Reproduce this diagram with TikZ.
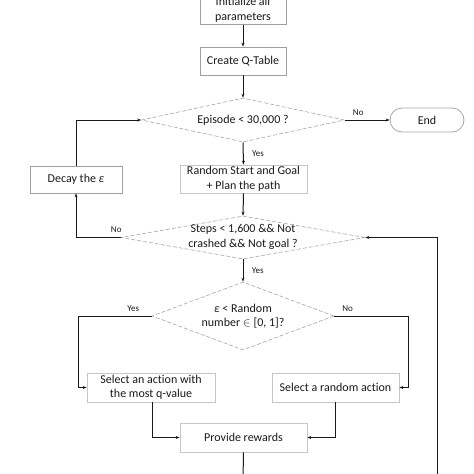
\documentclass[tikz,border=0pt]{standalone}
\usepackage{fontspec}
\setmainfont{Carlito}[Ligatures=NoCommon]
\usetikzlibrary{shapes.geometric,arrows.meta}
\begin{document}
\begin{tikzpicture}[x=1pt,y=1pt,
  every node/.style={font=\fontsize{12}{14.5}\selectfont, text=black!90},
  procbox/.style={draw=gray!75, line width=0.8pt, inner sep=0pt, align=center},
  lightbox/.style={draw=gray!45, line width=0.8pt, inner sep=0pt, align=center},
  decision/.style={diamond, draw=gray!70, line width=0.6pt, dash pattern=on 4pt off 2pt, inner sep=0pt},
  lbl/.style={font=\fontsize{9}{11}\selectfont, text=black!90},
  conn/.style={draw=black!90, line width=1pt, -{Stealth[length=4pt,width=3pt]}},
  plain/.style={draw=black!90, line width=1pt}
]
\useasboundingbox (0,0) rectangle (474,-474);
\clip (0,0) rectangle (474,-474);

\node[procbox, minimum width=86, minimum height=29] (init) at (243,-10) {Initialize all\\parameters};
\node[procbox, minimum width=86, minimum height=28] (qtab) at (243,-61) {Create Q-Table};
\node[decision, minimum width=203, minimum height=44] (d1) at (243,-120) {};
\node (d1t) at (d1) {Episode < 30,000 ?};
\node[draw=gray!70, line width=0.8pt, rounded corners=12pt, minimum width=74, minimum height=24, inner sep=0pt] (end) at (427,-120) {End};
\node[lightbox, minimum width=127, minimum height=28] (rand) at (243.5,-179) {Random Start and Goal\\+ Plan the path};
\node[procbox, minimum width=92, minimum height=27] (decay) at (76,-179.5) {Decay the \textit{ε}};
\node[decision, minimum width=244, minimum height=43] (d2) at (243,-237.5) {};
\node[align=center] (d2t) at (243,-237) {Steps < 1,600 \&\& Not\\crashed \&\& Not goal ?};
\node[decision, minimum width=182, minimum height=68] (d3) at (243,-316) {};
\node[align=center] (d3t) at (243,-316) {\textit{ε} < Random\\number $\in$ [0, 1]?};
\node[lightbox, minimum width=128, minimum height=29] (sel) at (151,-387.5) {Select an action with\\the most q-value};
\node[lightbox, minimum width=127, minimum height=29] (rnd) at (335.5,-387.5) {Select a random action};
\node[lightbox, minimum width=127, minimum height=29] (rew) at (243.5,-437.5) {Provide rewards};

\coordinate (rewend) at (243,-480);
\coordinate (loopbot) at (437,-480);

\draw[conn] (init.south) -- (qtab.north);
\draw[conn] (qtab.south) -- (d1.north);
\draw[conn] (d1.east) -- (end.west) node[lbl, pos=0.3, above=1pt] (l1) {No};
\draw[conn] (d1.south) -- (rand.north) node[lbl, midway, right=5pt] (l2) {Yes};
\draw[conn] (rand.south) -- (d2.north);
\draw[conn] (d2.south) -- (d3.north) node[lbl, midway, right=5pt] (l3) {Yes};
\draw[conn] (d2.west) -- (decay.south |- d2.west) node[lbl, pos=0.1, above=1pt] (l4) {No} -- (decay.south);
\draw[conn] (decay.north) |- (d1.west);
\draw[conn] (rew.south) -- (rewend);
\draw[conn] (loopbot) |- (d2.east);
\draw[conn] (d3.west) -- (78,-316) node[lbl, pos=0.25, above=1pt] (l5) {Yes} |- (sel.west);
\draw[conn] (d3.east) -- (408,-316) node[lbl, pos=0.18, above=1pt] (l6) {No} |- (rnd.east);
\draw[conn] (152,-402) |- (rew.west);
\draw[conn] (rnd.south) |- (rew.east);
\end{tikzpicture}
\end{document}
